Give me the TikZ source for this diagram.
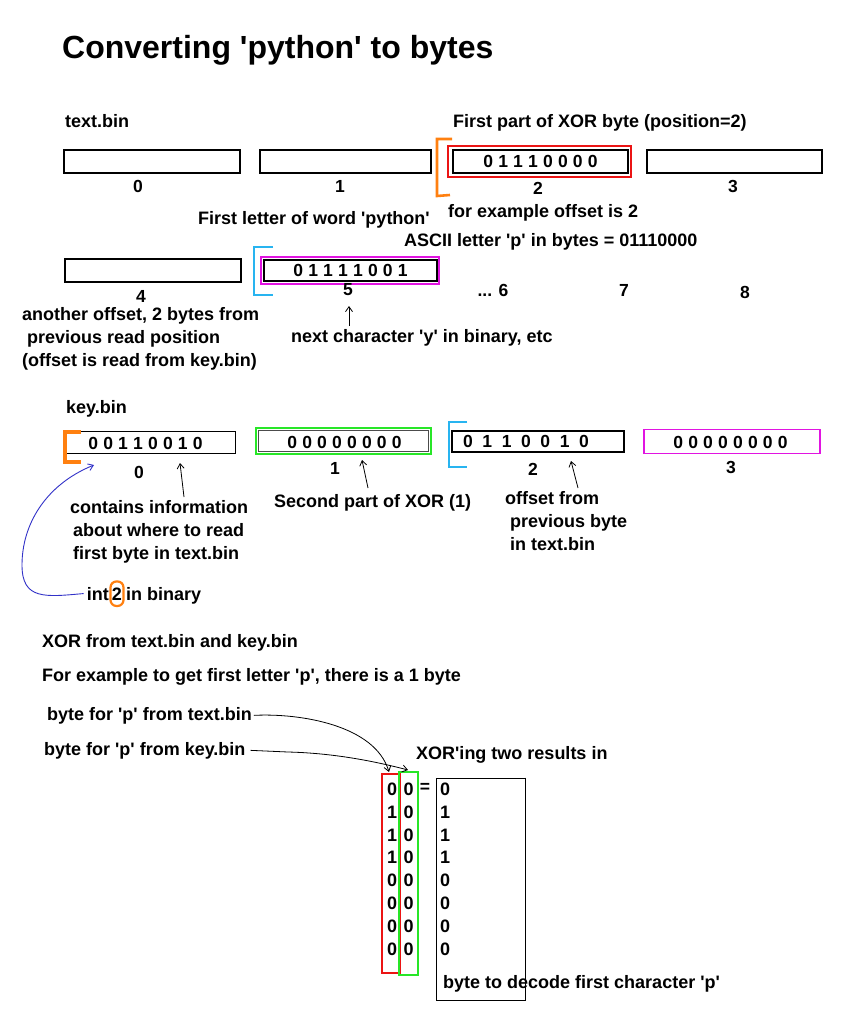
\documentclass[tikz,border=0pt]{standalone}
\usepackage{fontspec}
\setmainfont{Liberation Sans}[Ligatures=TeXOff]
\usetikzlibrary{arrows.meta}
\definecolor{orangec}{RGB}{255,128,16}
\definecolor{redc}{RGB}{235,20,20}
\definecolor{cyanc}{RGB}{40,180,240}
\definecolor{magc}{RGB}{225,20,225}
\definecolor{greenc}{RGB}{40,230,40}
\definecolor{bluec}{RGB}{50,50,200}
\newcommand{\bsp}{\hspace{5.2pt}}
\newcommand{\wsp}{\hspace{9.6pt}}
\begin{document}
\begin{tikzpicture}[x=1pt,y=-1pt,
  lbl/.style={font=\bfseries\fontsize{18}{20}\selectfont, inner sep=0pt, anchor=base west},
  num/.style={font=\bfseries\fontsize{17.5}{20}\selectfont, inner sep=0pt, anchor=center},
  bytebox/.style={draw=black, line width=1.1pt, minimum height=23pt, inner sep=0pt, font=\bfseries\fontsize{17.5}{20}\selectfont},
  arr/.style={-{Straight Barb[length=5pt,width=7pt]}, line width=0.8pt},
  brk/.style={line width=2.6pt, line cap=butt, line join=miter}
]
\useasboundingbox (0,0) rectangle (844,1024);
\fill[white] (0,0) rectangle (844,1024);

% title
\node[anchor=base west, inner sep=0pt, font=\bfseries\fontsize{32}{36}\selectfont] (title) at (62,59) {Converting 'python' to bytes};

% ---------- text.bin ----------
\node[lbl] (tbin) at (65,128) {text.bin};
\node[lbl] (fpx) at (453,128) {First part of XOR byte (position=2)};

\node[bytebox, minimum width=176pt] (t0) at (152,161.5) {};
\node[bytebox, minimum width=171pt] (t1) at (345.5,161.5) {};
\node[draw=redc, line width=1.6pt, minimum width=183pt, minimum height=31pt, inner sep=0pt] (t2r) at (539.5,161.5) {};
\node[bytebox, minimum width=175pt] (t2) at (540.5,161.5) {0\bsp1\bsp1\bsp1\bsp0\bsp0\bsp0\bsp0};
\node[bytebox, minimum width=175pt] (t3) at (734.5,161.5) {};

\node[num] (n0) at (138,186) {0};
\node[num] (n1) at (340,186) {1};
\node[num] (n2) at (538,188) {2};
\node[num] (n3) at (733,186) {3};

\draw[brk, orangec] (452,139) -- (437,139) -- (437,196) -- (450,195);

\node[lbl] (feo) at (448,218) {for example offset is 2};
\node[lbl] (flw) at (198,225) {First letter of word 'python'};
\node[lbl] (ascii) at (404,247) {ASCII letter 'p' in bytes = 01110000};

\node[bytebox, minimum width=176pt] (t4) at (153,270.5) {};
\node[draw=magc, line width=1.4pt, minimum width=178pt, minimum height=27pt, inner sep=0pt] (t5m) at (350,270.5) {};
\node[bytebox, minimum width=173pt, minimum height=21pt] (t5) at (350.5,270.5) {0\bsp1\bsp1\bsp1\bsp1\bsp0\bsp0\bsp1};
\draw[brk, cyanc, line width=1.6pt] (273,247) -- (254,247) -- (254,295) -- (273,295);

\node[num] (n4) at (141,296) {4};
\node[num] (n5) at (348,290) {5};
\node[num] (n6) at (493,290) {... 6};
\node[num] (n7) at (624,290) {7};
\node[num] (n8) at (745,292) {8};

\node[lbl] (ao1) at (22,320) {another offset, 2 bytes from};
\node[lbl] (ao2) at (27,343) {previous read position};
\node[lbl] (ao3) at (22,366) {(offset is read from key.bin)};

\node[lbl] (nc) at (291,342) {next character 'y' in binary, etc};
\coordinate (ncs) at (349,326);
\coordinate (nct) at (349,306);
\draw[arr] (ncs) -- (nct);

% ---------- key.bin ----------
\node[lbl] (kbin) at (66,413) {key.bin};

\node[bytebox, minimum width=171pt, minimum height=22pt] (k0) at (150,442.5) {};
\node[num] (k0t) at (145.5,443) {0\bsp0\bsp1\bsp1\bsp0\bsp0\bsp1\bsp0};
\draw[brk, orangec, line width=3.2pt] (81,432) -- (65,432) -- (65,462) -- (81,462);

\node[draw=greenc, line width=2.8pt, minimum width=175pt, minimum height=26pt, inner sep=0pt] (k1g) at (343.5,441) {};
\node[draw=black!70, line width=0.7pt, minimum width=170pt, minimum height=21pt, inner sep=0pt] (k1) at (343.5,441) {};
\node[num] (k1t) at (344.5,442) {0\bsp0\bsp0\bsp0\bsp0\bsp0\bsp0\bsp0};

\node[bytebox, minimum width=172pt, minimum height=21pt] (k2) at (538,441.5) {};
\node[num] (k2t) at (526,441) {0\wsp1\wsp1\wsp0\wsp0\wsp1\wsp0};
\draw[brk, cyanc, line width=1.6pt] (467,422) -- (449,422) -- (449,467) -- (467,467);

\node[draw=magc, line width=1.6pt, minimum width=176pt, minimum height=24pt, inner sep=0pt] (k3) at (732,441.5) {};
\node[num] (k3t) at (730.5,442) {0\bsp0\bsp0\bsp0\bsp0\bsp0\bsp0\bsp0};

\node[num] (m0) at (139,472) {0};
\node[num] (m1) at (335,468) {1};
\node[num] (m2) at (533,469) {2};
\node[num] (m3) at (731,467) {3};

\coordinate (a0s) at (184,497);
\coordinate (a0t) at (180,463);
\draw[arr] (a0s) -- (a0t);
\coordinate (a1s) at (368,488);
\coordinate (a1t) at (362,460);
\draw[arr] (a1s) -- (a1t);
\coordinate (a2s) at (578,488);
\coordinate (a2t) at (571,461);
\draw[arr] (a2s) -- (a2t);

\node[lbl] (ci1) at (70,513) {contains information};
\node[lbl] (ci2) at (73,536) {about where to read};
\node[lbl] (ci3) at (73,559) {first byte in text.bin};

\node[lbl] (sp) at (274,507) {Second part of XOR (1)};

\node[lbl] (of1) at (505,504) {offset from};
\node[lbl] (of2) at (510,527) {previous byte};
\node[lbl] (of3) at (510,550) {in text.bin};

\node[font=\bfseries\fontsize{18}{20}\selectfont, anchor=base, draw=orangec, line width=2.2pt, rounded corners=6pt, inner xsep=1.5pt, inner ysep=6pt] (two) at (117,600) {2};
\node[lbl, anchor=base east] (intw) at (109,600) {int};
\node[lbl] (inbin) at (126,600) {in binary};

\coordinate (bt) at (94,465);
\draw[bluec, line width=0.9pt, -{Straight Barb[length=5pt,width=7pt]}]
  ([xshift=-3pt]intw.west) .. controls (45,597) and (22,600) .. (22,565)
  .. controls (22,525) and (45,485) .. (bt);

% ---------- XOR ----------
\node[lbl] (xft) at (42,647) {XOR from text.bin and key.bin};
\node[lbl] (fex) at (42,681) {For example to get first letter 'p', there is a 1 byte};
\node[lbl] (bpt) at (47,720) {byte for 'p' from text.bin};
\node[lbl] (bpk) at (44,755) {byte for 'p' from key.bin};
\node[lbl] (xtr) at (416,759) {XOR'ing two results in};

\node[draw=redc, line width=1.1pt, minimum width=18pt, minimum height=199pt, inner sep=0pt] (colr) at (391,873.5) {};
\node[draw=greenc, line width=1.4pt, minimum width=19pt, minimum height=203pt, inner sep=0pt] (colg) at (408.5,873.5) {};
\node[draw=black, line width=1pt, minimum width=89pt, minimum height=222pt, inner sep=0pt] (res) at (480.5,889) {};

\foreach \a/\r [count=\i from 0] in {0/0,1/1,1/1,1/1,0/0,0/0,0/0,0/0} {
  \node[num, font=\bfseries\fontsize{18}{20}\selectfont] (l\i) at (392,789+22.9*\i) {\a};
  \node[num, font=\bfseries\fontsize{18}{20}\selectfont] (g\i) at (408.5,789+22.9*\i) {0};
  \node[num, font=\bfseries\fontsize{18}{20}\selectfont] (r\i) at (445,789+22.9*\i) {\r};
}
\node[num] (eq) at (425,788) {=};

\node[lbl, fill=white, inner ysep=1pt] (btd) at (443,988) {byte to decode first character 'p'};
\draw[line width=1pt] (res.north east) -- (res.south east);

\coordinate (rt) at (389,772);
\coordinate (gt) at (408,770);
\draw[arr] ([xshift=2pt]bpt.east) .. controls (300,713) and (375,725) .. (rt);
\draw[arr] ([xshift=5pt]bpk.east) -- (288,752) .. controls (330,753) and (370,760) .. (gt);
\end{tikzpicture}
\end{document}
